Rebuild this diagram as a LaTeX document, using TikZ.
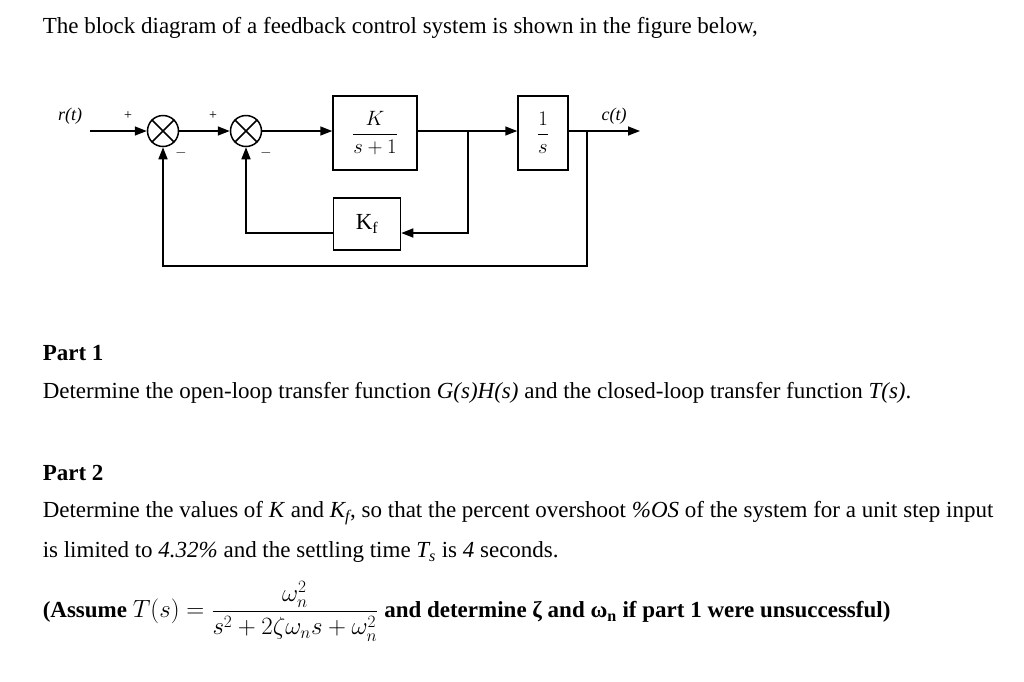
\documentclass[tikz,border=0pt]{standalone}
\usepackage{amsmath}
\usepackage{fontspec}
\setmainfont{Liberation Serif}
\usetikzlibrary{arrows.meta,positioning}

\begin{document}
\begin{tikzpicture}[x=1pt,y=-1pt,>={Triangle[length=12pt,width=9pt]},line width=1.5pt,
                    font=\fontsize{23}{27}\selectfont]
\tikzstyle{block}=[draw,line width=1.5pt,inner sep=0pt]
\tikzstyle{sum}=[draw,circle,line width=1.5pt,minimum size=31pt,inner sep=0pt]
\tikzstyle{txt}=[anchor=west,inner sep=0pt]
\useasboundingbox (0,0) rectangle (1024,681);
% text above
\node[txt] (title) at (42,28) {The block diagram of a feedback control system is shown in the figure below,};
% diagram
\node[sum] (s1) at (163,131) {};
\node[sum] (s2) at (246,131) {};
\foreach \n in {s1,s2}{
  \draw[line width=1.5pt] (\n.north west) -- (\n.south east) (\n.north east) -- (\n.south west);
}
\node[block,minimum width=84pt,minimum height=74pt] (G) at (375,133)
  {\fontsize{21}{23}\selectfont$\dfrac{K}{s+1}$};
\node[block,minimum width=50pt,minimum height=74pt] (I) at (543,133)
  {\fontsize{21}{23}\selectfont$\dfrac{1}{s}$};
\node[block,minimum width=67pt,minimum height=52pt] (Kf) at (367,224) {K$_{\mathrm{f}}$};
\coordinate (in) at (90,131);
\coordinate (out) at (640,131);
\coordinate (b1) at (468,131);
\coordinate (b2) at (587,131);
\node[font=\fontsize{18}{20}\selectfont\itshape] (r) at (70,116) {r(t)};
\node[font=\fontsize{18}{20}\selectfont\itshape] (c) at (614,116) {c(t)};
\node[font=\fontsize{14}{16}\selectfont] (p1) at (128,116) {+};
\node[font=\fontsize{14}{16}\selectfont] (p2) at (213,116) {+};
\node[font=\fontsize{14}{16}\selectfont] (m1) at (181,153) {$-$};
\node[font=\fontsize{14}{16}\selectfont] (m2) at (266,153) {$-$};
\draw[->] (in) -- (s1);
\draw[->] (s1) -- (s2);
\draw[->] (s2) -- (G.west |- s2);
\draw[->] (G.east |- s2) -- (I.west |- s2);
\draw[->] (I.east |- s2) -- (out);
\draw[->] (b1) |- (Kf.east |- 0,233);
\draw[->] (Kf.west |- 0,233) -| (s2);
\draw[->] (b2) |- (163,266) -- (s1);
% text below
\node[txt] (part1) at (42,353) {\bfseries Part 1};
\node[txt] (q1) at (42,393) {Determine the open-loop transfer function \textit{G(s)H(s)} and the closed-loop transfer function \textit{T(s)}.};
\node[txt] (part2) at (42,473) {\bfseries Part 2};
\node[txt] (q2) at (42,513) {Determine the values of \textit{K} and \textit{K\textsubscript{f}}, so that the percent overshoot \textit{\%OS} of the system for a unit step input};
\node[txt] (q3) at (42,552) {is limited to \textit{4.32\%} and the settling time \textit{T\textsubscript{s}} is \textit{4} seconds.};
\node[txt,font=\fontsize{23}{27}\selectfont\bfseries] (q4) at (42,611)
  {(Assume \mdseries$T(s)=\dfrac{\omega_n^2}{\rule{0pt}{15pt}s^2+2\zeta\omega_n s+\omega_n^2\rule[-6pt]{0pt}{6pt}}$\bfseries\ and determine ζ and ω\textsubscript{n} if part 1 were unsuccessful)};
\end{tikzpicture}
\end{document}
